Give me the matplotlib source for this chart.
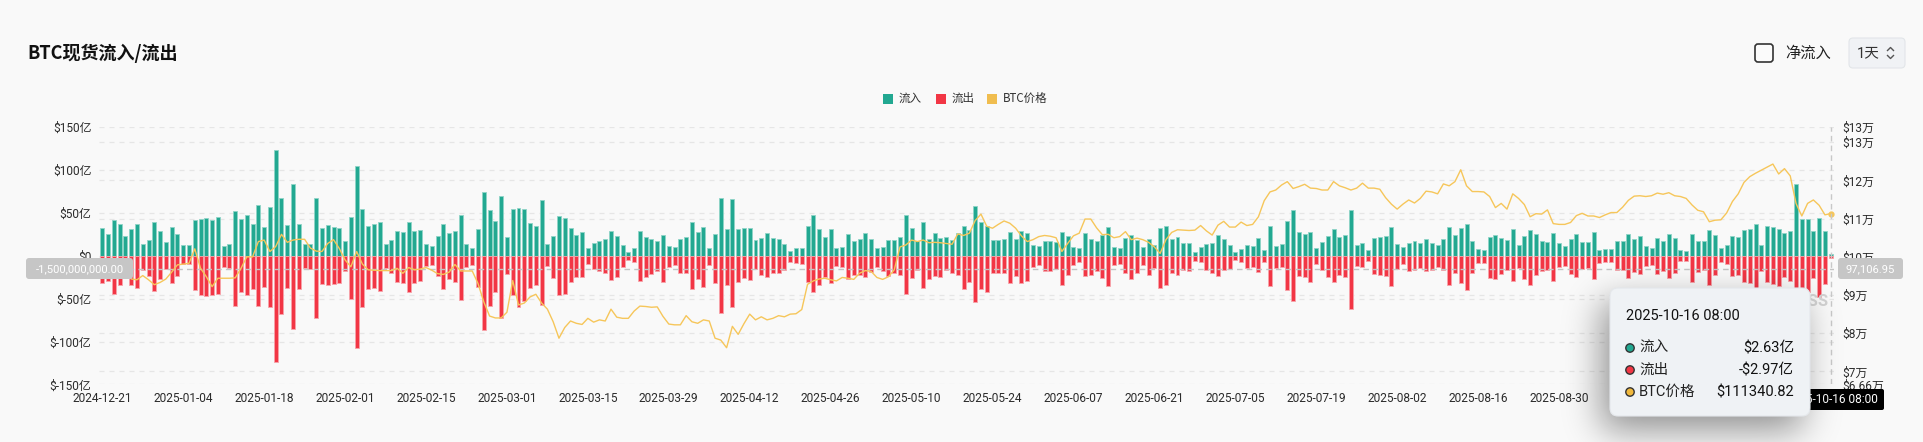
import math
import numpy as np
import pandas as pd
import matplotlib
matplotlib.use("Agg")
import matplotlib.pyplot as plt
from matplotlib import font_manager as fm
from matplotlib.patches import FancyBboxPatch, Rectangle, Circle
from matplotlib.transforms import blended_transform_factory

# ---------------- data ----------------
dates = pd.date_range("2024-12-21", "2025-10-16", freq="D").strftime("%Y-%m-%d").tolist()

inflow_yi = [
    32.3, 25.7, 42.0, 37.0, 23.4, 31.5, 36.6, 13.6, 18.7, 39.7,
    28.4, 16.0, 33.5, 25.3, 12.5, 12.1, 41.3, 42.4, 44.4, 41.7,
    45.6, 11.7, 13.2, 51.8, 42.8, 47.1, 37.4, 59.2, 33.5, 57.2,
    123.4, 67.1, 36.2, 83.7, 37.0, 14.0, 13.6,
    67.4, 32.7, 35.4, 33.9, 32.7, 17.1, 44.8, 104.4, 54.5, 34.3,
    37.0, 39.3, 13.2, 18.7, 28.8, 28.0, 39.3, 28.4, 30.4, 13.6,
    10.9, 23.4, 37.4, 26.1, 28.8, 47.5, 13.6, 9.3, 31.2, 74.8,
    53.7, 40.5, 69.7, 21.8, 54.9, 55.6, 54.1, 38.5,
    35.0, 65.0, 13.6, 23.4, 45.9, 44.0, 32.3, 24.1, 27.3, 8.6,
    15.2, 17.5, 19.1, 28.4, 22.6, 12.1, 4.7, 9.3, 29.2, 21.8,
    19.1, 17.1, 24.1, 11.3, 10.1, 19.9, 21.4, 39.7, 28.0, 33.9,
    8.9, 25.3, 67.4, 31.2, 65.8, 30.8, 32.3,
    32.3, 17.9, 20.6, 26.1, 20.6, 19.5, 13.6, 5.8, 9.0, 9.0,
    34.3, 47.5, 31.5, 21.4, 31.2, 9.3, 10.1, 25.3, 17.5, 19.1,
    26.5, 19.5, 9.3, 10.5, 18.3, 18.7, 21.8, 47.1, 32.3, 16.7,
    39.7, 19.9, 26.5, 20.6, 22.2, 18.7,
    26.5, 34.3, 30.4, 58.4, 39.7, 35.0, 17.9, 17.9, 19.9, 28.0,
    19.5, 28.8, 26.9, 12.5, 10.9, 17.5, 17.5, 16.0, 27.6, 23.0,
    10.5, 9.0, 26.1, 19.5, 16.7, 23.7, 33.5, 9.7, 9.0, 20.6,
    24.5, 18.7, 10.1, 19.5, 12.9, 32.3, 34.7, 19.5,
    21.8, 14.8, 15.2, 4.7, 9.7, 14.0, 14.8, 24.1, 19.1, 12.1,
    4.7, 8.2, 12.5, 11.7, 20.2, 7.0, 34.7, 11.7, 14.0, 40.9,
    53.3, 27.3, 24.9, 28.0, 8.6, 15.6, 23.4, 31.2, 21.8, 24.1,
    53.3, 12.9, 14.8, 6.6, 21.0, 21.8, 22.6,
    33.1, 13.6, 10.1, 14.4, 16.7, 14.8, 19.5, 14.8, 12.1, 19.1,
    33.1, 23.7, 32.3, 37.0, 16.7, 7.8, 6.6, 21.8, 23.7, 20.6,
    17.9, 31.2, 12.1, 22.6, 30.4, 25.7, 17.5, 15.6, 26.5, 14.8,
    10.9, 19.1, 25.3, 16.4, 16.4, 28.0, 7.0,
    7.8, 8.2, 16.7, 17.1, 24.9, 19.9, 22.6, 10.9, 9.3, 20.6,
    16.7, 25.7, 20.6, 7.0, 5.8, 25.3, 17.1, 17.1, 29.6, 24.5,
    8.6, 12.1, 23.4, 21.8, 30.0, 31.2, 37.4, 12.9, 34.3, 33.1,
    31.2, 26.9, 28.8, 83.7, 43.2, 43.2, 28.8, 43.6, 29.2, 2.63,
]

outflow_yi = [
    32, 29, 44, 34, 22, 34.3, 37, 16, 24, 41,
    27, 15, 32, 23, 10, 10, 40, 46, 47, 46,
    44, 12.5, 14.4, 59, 42.4, 46.3, 38.5, 58.8, 36.6, 60,
    123.8, 68, 38, 85, 39, 14, 15,
    72.8, 33.1, 34.3, 32.7, 31.9, 18.3, 50.2, 107.5, 59.2, 38.5,
    38.1, 40.9, 14.4, 20.6, 30.8, 31.2, 41.7, 31.5, 29.2, 12.1,
    11.3, 24.1, 38.9, 26.9, 30.8, 51.8, 12.9, 10.5, 36.6, 86.4,
    58.8, 41.7, 72.8, 21.0, 46.3, 60.0, 53.3, 37.0,
    34.3, 57.2, 11.7, 26.1, 45.2, 44.4, 30.8, 24.5, 24.5, 9.3,
    15.2, 17.9, 19.5, 28.0, 24.9, 13.2, 5.1, 7.8, 29.6, 25.3,
    21.8, 18.3, 30.0, 12.9, 10.9, 20.6, 20.6, 38.5, 27.6, 36.2,
    10.9, 32.3, 66.2, 33.5, 60.0, 30.0, 26.1,
    28.0, 15.2, 22.2, 24.9, 20.6, 20.6, 16.0, 7.4, 8.2, 9.7,
    30.0, 42.8, 34.3, 24.9, 32.3, 11.7, 12.5, 26.9, 22.2, 22.2,
    24.9, 19.1, 13.2, 18.3, 23.4, 20.2, 22.6, 44.0, 26.1, 17.1,
    37.8, 26.9, 23.7, 24.5, 17.1, 20.2,
    22.2, 38.9, 30.0, 54.1, 38.9, 42.4, 20.2, 20.2, 20.2, 31.2,
    23.4, 31.2, 29.2, 12.5, 10.9, 18.3, 18.3, 15.6, 33.9, 22.2,
    10.5, 7.8, 23.0, 22.2, 18.3, 26.1, 35.8, 11.3, 9.7, 20.2,
    27.6, 19.5, 10.5, 22.6, 14.4, 37.8, 33.9, 20.6,
    22.9, 16.4, 18.3, 5.5, 7.8, 16.4, 19.5, 23.4, 17.1, 15.6,
    4.7, 7.8, 14.4, 13.2, 19.1, 7.4, 35.8, 14.0, 13.2, 40.1,
    53.3, 24.1, 24.5, 30.8, 9.7, 16.0, 24.5, 30.0, 22.2, 24.5,
    61.5, 11.7, 12.9, 5.8, 21.4, 22.9, 24.1,
    35.8, 15.2, 9.0, 17.5, 17.1, 14.8, 18.3, 16.7, 12.5, 16.7,
    33.9, 20.2, 31.9, 39.7, 20.2, 8.2, 8.6, 26.1, 26.9, 21.0,
    16.4, 29.2, 14.4, 26.9, 33.9, 22.6, 18.3, 17.1, 29.9, 13.2,
    12.1, 21.4, 25.3, 15.9, 14.8, 27.3, 8.2,
    7.8, 7.8, 17.1, 17.1, 26.1, 19.1, 21.4, 11.7, 10.5, 21.4,
    18.3, 26.1, 20.2, 6.6, 5.8, 30.8, 19.1, 16.7, 33.9, 22.9,
    7.8, 10.1, 24.1, 22.9, 30.0, 31.9, 40.0, 18.3, 30.8, 32.7,
    35.8, 25.3, 29.2, 82.0, 45.0, 42.0, 26.1, 47.5, 32.7, 2.97,
]

btc_price_wan = [
    9.72, 9.55, 9.48, 9.85, 9.92, 9.42, 9.40, 9.51, 9.40, 9.27,
    9.33, 9.42, 9.60, 9.79, 9.81, 9.83, 10.21, 9.70, 9.48, 9.22,
    9.44, 9.44, 9.44, 9.45, 9.70, 10.0, 10.0, 10.40, 10.44, 10.14,
    10.27, 10.59, 10.38, 10.44, 10.46, 10.46, 10.23,
    10.15, 10.14, 10.35, 10.45, 10.22, 9.92, 9.74, 10.14, 9.81, 9.66,
    9.65, 9.64, 9.64, 9.64, 9.70, 9.57, 9.72, 9.66, 9.68, 9.72,
    9.65, 9.56, 9.54, 9.60, 9.80, 9.63, 9.63, 9.63, 9.30, 8.82,
    8.45, 8.40, 8.40, 8.55, 9.38, 8.74, 8.79, 8.95,
    9.02, 8.79, 8.63, 8.30, 7.87, 8.15, 8.32, 8.26, 8.23, 8.39,
    8.29, 8.35, 8.32, 8.63, 8.42, 8.39, 8.39, 8.58, 8.71, 8.70,
    8.68, 8.69, 8.44, 8.24, 8.22, 8.22, 8.46, 8.30, 8.26, 8.35,
    8.32, 7.87, 7.82, 7.62, 8.18, 7.97, 8.25,
    8.50, 8.35, 8.43, 8.35, 8.39, 8.46, 8.43, 8.50, 8.51, 8.62,
    9.28, 9.37, 9.42, 9.44, 9.40, 9.37, 9.46, 9.44, 9.41, 9.57,
    9.64, 9.62, 9.46, 9.41, 9.48, 9.66, 10.26, 10.31, 10.44, 10.40,
    10.44, 10.37, 10.38, 10.37, 10.35, 10.33,
    10.60, 10.56, 10.62, 10.95, 11.12, 10.80, 10.75, 10.85, 10.94, 10.88,
    10.75, 10.55, 10.40, 10.45, 10.53, 10.56, 10.54, 10.50, 10.14, 10.35,
    10.55, 10.62, 10.99, 10.99, 10.76, 10.58, 10.59, 10.50, 10.53, 10.66,
    10.45, 10.49, 10.45, 10.38, 10.26, 10.09, 10.45, 10.64,
    10.71, 10.70, 10.69, 10.70, 10.82, 10.68, 10.57, 10.83, 10.93, 10.78,
    10.78, 10.91, 10.82, 10.85, 11.05, 11.47, 11.70, 11.75, 11.88, 11.97,
    11.79, 11.84, 11.90, 11.80, 11.79, 11.75, 11.75, 11.97, 11.86, 11.81,
    11.75, 11.80, 11.93, 11.80, 11.80, 11.77, 11.55,
    11.38, 11.25, 11.38, 11.49, 11.41, 11.53, 11.72, 11.70, 11.65, 11.91,
    11.86, 11.97, 12.28, 11.86, 11.71, 11.71, 11.70, 11.58, 11.29, 11.40,
    11.25, 11.65, 11.53, 11.37, 11.05, 11.13, 11.12, 11.23, 10.87, 10.85,
    10.85, 10.90, 11.08, 11.14, 11.07, 11.07, 11.03,
    11.10, 11.16, 11.16, 11.30, 11.48, 11.59, 11.60, 11.58, 11.60, 11.67,
    11.64, 11.68, 11.60, 11.58, 11.53, 11.36, 11.22, 11.18, 10.92, 10.96,
    10.97, 11.15, 11.45, 11.65, 11.95, 12.10, 12.19, 12.27, 12.35, 12.43,
    12.17, 12.31, 12.12, 11.40, 11.07, 11.40, 11.49, 11.35, 11.10, 11.134082,
]

left_ticks = [-150, -100, -50, 0, 50, 100, 150]
left_labels = ["$-150亿", "$-100亿", "$-50亿", "$0", "$50亿", "$100亿", "$150亿"]
price_min, price_max = 66600, 133950
right_ticks = [66600, 70000, 80000, 90000, 100000, 110000, 120000, 130000, 133950]
right_labels = ["$6.66万", "$7万", "$8万", "$9万", "$10万", "$11万", "$12万", "$13万", "$13万"]
date_step = 14
cursor_left_yi = -15.0
cursor_right_price = 97106.95
cursor_time = "2025-10-16 08:00"

# ---------------- style ----------------
W, H = 1924, 442
BG = "#f9f9f9"
GREEN = "#22a891"
GREEN_EDGE = "#8fd4c7"
RED = "#f23645"
RED_EDGE = "#f7a3aa"
YEL = "#f6c65a"
YEL_LEG = "#f0bd4f"
GRID = "#e6e6e6"
TXT = "#2b2b2b"

avail = {f.name for f in fm.fontManager.ttflist}
if "Liberation Sans Narrow" in avail:
    NUM = ["Liberation Sans Narrow", "Noto Sans CJK SC", "DejaVu Sans"]
    NSZ = 10
else:
    NUM = ["Roboto", "Noto Sans CJK SC", "DejaVu Sans"]
    NSZ = 8.6
TIP = ["Roboto", "Noto Sans CJK SC", "DejaVu Sans"]
CJK = ["Noto Sans CJK SC", "DejaVu Sans"]
plt.rcParams["font.family"] = CJK

inflow = np.array(inflow_yi)
outflow = np.array(outflow_yi)
price = np.array(btc_price_wan) * 1e4
x = np.arange(len(dates))

fig = plt.figure(figsize=(W / 100, H / 100), dpi=100, facecolor=BG)
ax_l, ax_r, ax_t, ax_b = 99.4, 1833.6, 127.2, 384.4
ax = fig.add_axes([ax_l / W, (H - ax_b) / H, (ax_r - ax_l) / W, (ax_b - ax_t) / H])
ax.set_facecolor(BG)
ax.set_xlim(-0.5, len(dates) - 0.5)
ax.set_ylim(-150, 150)
for s in ax.spines.values():
    s.set_visible(False)

ax2 = ax.twinx()
ax2.set_ylim(price_min, price_max)
for s in ax2.spines.values():
    s.set_visible(False)

# grid lines (both axes), behind bars
for v in left_ticks:
    ax.axhline(v, color=GRID, lw=0.9, ls=(0, (4, 4)), zorder=0)
tr = blended_transform_factory(ax.transAxes, ax2.transData)
for v in right_ticks[1:-1]:
    ax.plot([0, 1], [v, v], transform=tr, color=GRID, lw=0.9, ls=(0, (4, 4)), zorder=0)

ax.bar(x, inflow, width=0.69, color=GREEN, edgecolor=GREEN_EDGE, linewidth=0.6, zorder=2)
ax.bar(x, -outflow, width=0.69, color=RED, edgecolor=RED_EDGE, linewidth=0.6, zorder=2)

ax2.plot(x, price, color=YEL, lw=1.0, zorder=3)
ax2.plot([x[-1]], [price[-1]], "o", ms=3.5, mfc=YEL, mec=YEL, zorder=4)

# crosshair
ax.axhline(cursor_left_yi, color="#c4c4c4", lw=1.0, ls=(0, (4, 3)), zorder=5)
ax2.axvline(x[-1], color="#c8c8c8", lw=1.0, ls=(0, (4, 3)), zorder=5)

# tooltip geometry (pixels, from top-left)
tx0, ty0, tw, th = 1610, 288, 200, 128

# ticks
ax.tick_params(axis="both", length=0)
ax2.tick_params(axis="both", length=0)
ax.set_yticks(left_ticks)
ax.set_yticklabels(left_labels, fontfamily=NUM, fontsize=NSZ, color=TXT)
ax.tick_params(axis="y", pad=5.7)
xt = list(range(0, len(dates), date_step))
ax.set_xticks(xt)
xpix = lambda i: ax_l + (i + 0.5) * (ax_r - ax_l) / len(dates)
# labels lying under the tooltip / time badge are hidden in the reference
xl = [dates[i] if xpix(i) + 32 < tx0 else "" for i in xt]
ax.set_xticklabels(xl, fontfamily=NUM, fontsize=NSZ, color=TXT)
ax.tick_params(axis="x", pad=5.5)
ax2.set_yticks(right_ticks)
ax2.set_yticklabels(right_labels, fontfamily=NUM, fontsize=NSZ, color=TXT)
ax2.tick_params(axis="y", pad=6)

# ---------------- overlay (pixel coords) ----------------
ov = fig.add_axes([0, 0, 1, 1])
ov.set_zorder(10)
ov.patch.set_visible(False)
ov.axis("off")

# title & controls
ov.text(27, 53, "BTC现货流入/流出", fontsize=13, fontweight="bold", color="#111111",
        va="center", ha="left", family=CJK)
ov.add_patch(FancyBboxPatch((1755, 44), 18, 18, boxstyle="round,pad=0,rounding_size=3",
                            fc="#fbfbfb", ec="#333333", lw=1.2))
ov.text(1785, 53, "净流入", fontsize=11, color="#222222", va="center", ha="left", family=CJK)
ov.add_patch(FancyBboxPatch((1849, 38), 56, 30, boxstyle="round,pad=0,rounding_size=4",
                            fc="#f0f2f5", ec="#e2e5e9", lw=0.8))
ov.text(1857, 53, "1天", fontsize=10.5, color="#333333", va="center", ha="left", family=TIP)
ov.plot([1887.5, 1890.5, 1893.5], [50.5, 47.5, 50.5], color="#555555", lw=1.0)
ov.plot([1887.5, 1890.5, 1893.5], [55.5, 58.5, 55.5], color="#555555", lw=1.0)

# legend
for (lx, col, lab) in [(883, GREEN, "流入"), (936, RED, "流出"), (987, YEL_LEG, "BTC价格")]:
    ov.add_patch(Rectangle((lx, 93.5), 10, 10, fc=col, ec="none"))
    ov.text(lx + 16, 98.8, lab, fontsize=8.3, color="#333333", va="center", ha="left", family=CJK)

# watermark fragment (mostly hidden by the tooltip)
ov.text(1828, 301, "COINGLASS", fontsize=12, fontweight="bold", color="#d2d2d2",
        ha="right", va="center", family=TIP, zorder=1)

# crosshair value labels
ov.add_patch(FancyBboxPatch((26, 258), 107, 21, boxstyle="round,pad=0,rounding_size=3",
                            fc="#c6c6c6", ec="none", zorder=2))
ov.text(79.5, 268.8, f"{cursor_left_yi * 1e8:,.2f}", fontsize=NSZ - 0.5, color="white",
        ha="center", va="center", family=NUM, zorder=3)
ov.add_patch(FancyBboxPatch((1838, 258), 65, 21, boxstyle="round,pad=0,rounding_size=3",
                            fc="#c6c6c6", ec="none", zorder=2))
ov.text(1870.5, 268.8, f"{cursor_right_price:,.2f}", fontsize=NSZ - 0.5, color="white",
        ha="center", va="center", family=NUM, zorder=3)
ov.add_patch(FancyBboxPatch((1780, 389), 104, 21, boxstyle="round,pad=0,rounding_size=2",
                            fc="black", ec="none", zorder=2))
ov.text(1832, 399.5, cursor_time, fontsize=NSZ, color="white",
        ha="center", va="center", family=NUM, zorder=3)

# tooltip shadow
erf = np.vectorize(math.erf)
gx = np.arange(W) + 0.5
gy = np.arange(H) + 0.5
sig = 18.0
sx0, sx1, sy0, sy1 = tx0 - 8, tx0 + tw - 8, ty0 + 14, ty0 + th + 14
fxv = 0.5 * (erf((gx - sx0) / (sig * 1.414)) - erf((gx - sx1) / (sig * 1.414)))
fyv = 0.5 * (erf((gy - sy0) / (sig * 1.414)) - erf((gy - sy1) / (sig * 1.414)))
alpha = np.outer(fyv, fxv) * 0.42
rgba = np.zeros((H, W, 4))
rgba[..., 3] = alpha
ov.imshow(rgba, extent=(0, W, H, 0), aspect="auto", interpolation="bilinear", zorder=4)

ov.add_patch(FancyBboxPatch((tx0, ty0), tw, th, boxstyle="round,pad=0,rounding_size=8",
                            fc="#eff2f5", ec="#e4e7eb", lw=0.8, zorder=5))
ov.text(1626, 316, cursor_time, fontsize=10.5, color="#111111", ha="left", va="center",
        family=TIP, zorder=6)
rows = [
    (348, GREEN, "流入", f"${inflow[-1]:.2f}亿"),
    (370, RED, "流出", f"-${outflow[-1]:.2f}亿"),
    (392, "#f0b83c", "BTC价格", f"${price[-1]:.2f}"),
]
for (ry, col, lab, val) in rows:
    ov.add_patch(Circle((1630, ry), 4.2, fc=col, ec="#333333", lw=1.0, zorder=6))
    ov.text(1639, ry, lab, fontsize=10.5, color="#222222", ha="left", va="center",
            family=TIP, zorder=6)
    ov.text(1794, ry, val, fontsize=10.5, color="#111111", ha="right", va="center",
            family=TIP, zorder=6)

ov.set_xlim(0, W)
ov.set_ylim(H, 0)

fig.savefig("out.png", dpi=100, facecolor=BG)
